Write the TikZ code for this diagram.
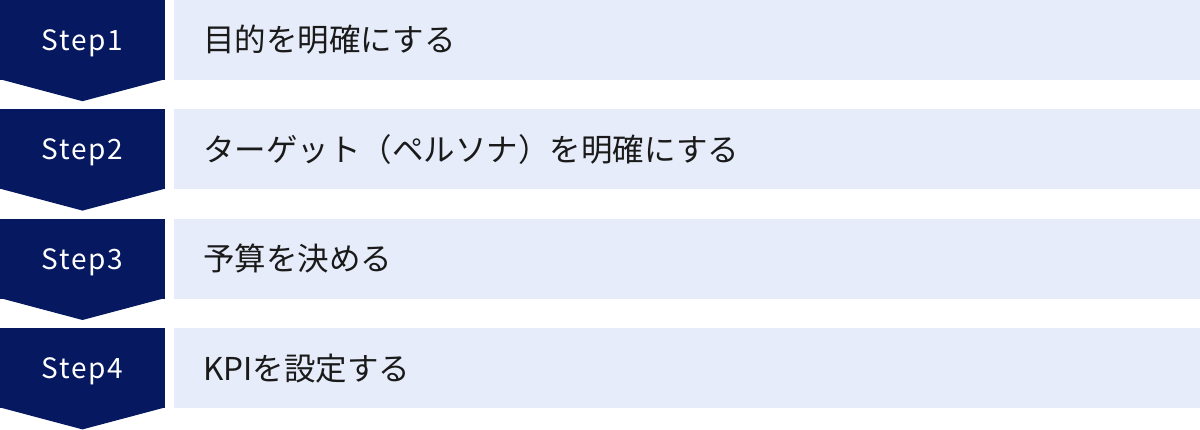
\documentclass[tikz,border=0pt]{standalone}
\usepackage{fontspec}
\setmainfont{Noto Sans CJK JP}
\newfontfamily\stepfont[LetterSpace=6]{Noto Sans CJK JP}
\usetikzlibrary{positioning}
\definecolor{stepnavy}{RGB}{5,24,96}
\definecolor{itemblue}{RGB}{230,236,249}
\definecolor{itemtext}{RGB}{26,26,26}

\begin{document}
\begin{tikzpicture}[x=1pt,y=-1pt,node distance=29pt,
  step box/.style={rectangle,fill=stepnavy,text=white,minimum width=165pt,minimum height=80pt,inner sep=0pt,text height=20.5pt,text depth=0pt,font=\stepfont\fontsize{28}{32}\selectfont},
  item box/.style={rectangle,fill=itemblue,text=itemtext,minimum height=80pt,inner xsep=29pt,inner ysep=0pt,text width=968pt,align=left,font=\fontsize{31.5}{36}\selectfont},
  tip/.style={fill=stepnavy}]

  \useasboundingbox (0,0) rectangle (1200,429);

  \node[step box] (s1) at (82.5,40) {Step1};
  \node[step box] (s2) [below=of s1] {Step2};
  \node[step box] (s3) [below=of s2] {Step3};
  \node[step box] (s4) [below=of s3] {Step4};

  % arrow tips under each step
  \fill[tip] ([yshift=1pt]s1.south west) -- ([yshift=-21pt]s1.south) -- ([yshift=1pt]s1.south east) -- cycle;
  \fill[tip] ([yshift=1pt]s2.south west) -- ([yshift=-21pt]s2.south) -- ([yshift=1pt]s2.south east) -- cycle;
  \fill[tip] ([yshift=1pt]s3.south west) -- ([yshift=-21pt]s3.south) -- ([yshift=1pt]s3.south east) -- cycle;
  \fill[tip] ([yshift=1pt]s4.south west) -- ([yshift=-21pt]s4.south) -- ([yshift=1pt]s4.south east) -- cycle;

  \node[item box] (i1) [right=9pt of s1] {目的を明確にする};
  \node[item box] (i2) [right=9pt of s2] {ターゲット（ペルソナ）を明確にする};
  \node[item box] (i3) [right=9pt of s3] {予算を決める};
  \node[item box] (i4) [right=9pt of s4] {KPIを設定する};

\end{tikzpicture}
\end{document}
